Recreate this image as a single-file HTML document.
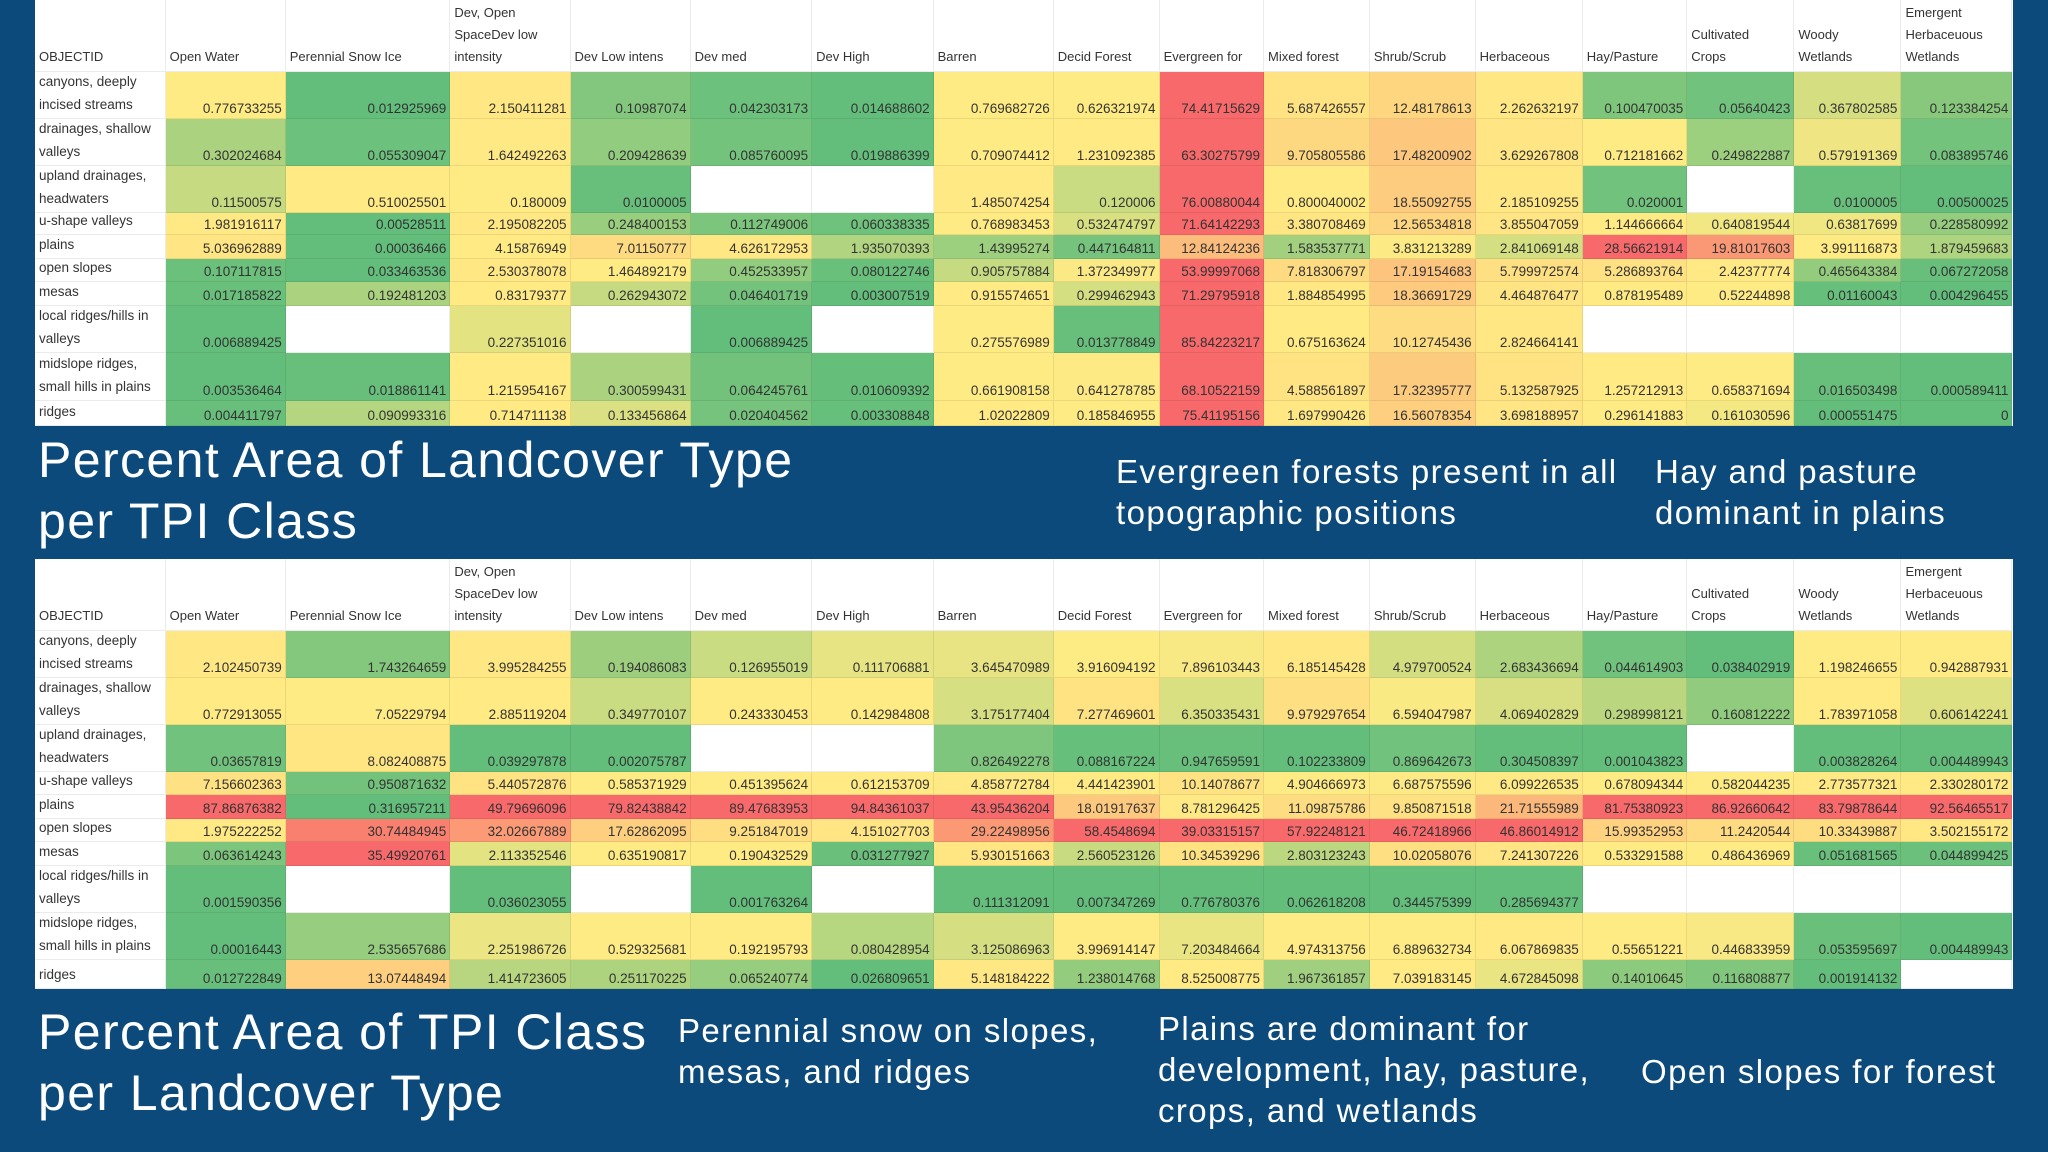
<!DOCTYPE html>
<html><head><meta charset="utf-8">
<style>
html,body{margin:0;padding:0}
body{width:2048px;height:1152px;background:#0c4a7c;position:relative;overflow:hidden;font-family:"Liberation Sans",sans-serif}
.tbl{position:absolute;background:#fff}
.c{position:absolute;box-sizing:border-box;border-right:1px solid rgba(0,0,0,0.08);border-bottom:1px solid rgba(0,0,0,0.08);font-size:13.5px;color:#333;display:flex;align-items:flex-end;overflow:hidden;white-space:nowrap}
.v{justify-content:flex-end;padding:0 3px 2px 0}
.h{padding:0 0 3px 4px;line-height:22px;font-size:13px;white-space:normal}
.l{padding:0 0 2px 4px;line-height:23px;font-size:13.5px;white-space:normal}
.txt{position:absolute;color:#fff;white-space:nowrap}
.title{font-size:50px;line-height:61px;letter-spacing:1.4px}
.note{font-size:33px;line-height:41px;letter-spacing:1.4px}
</style></head>
<body>
<div class="tbl" id="t1" style="left:35px;top:0;width:1978px;height:426px"></div>
<div class="tbl" id="t2" style="left:35px;top:559px;width:1978px;height:430px"></div>

<div class="txt title" style="left:38px;top:430px">Percent Area of Landcover Type<br>per TPI Class</div>
<div class="txt note" style="left:1116px;top:451px">Evergreen forests present in all<br>topographic positions</div>
<div class="txt note" style="left:1655px;top:451px">Hay and pasture<br>dominant in plains</div>

<div class="txt title" style="left:38px;top:1002px">Percent Area of TPI Class<br>per Landcover Type</div>
<div class="txt note" style="left:678px;top:1010px">Perennial snow on slopes,<br>mesas, and ridges</div>
<div class="txt note" style="left:1158px;top:1008px">Plains are dominant for<br>development, hay, pasture,<br>crops, and wetlands</div>
<div class="txt note" style="left:1641px;top:1051px">Open slopes for forest</div>

<script>
const headers=["OBJECTID","Open Water","Perennial Snow Ice","Dev, Open<br>SpaceDev low<br>intensity","Dev Low intens","Dev med","Dev High","Barren","Decid Forest","Evergreen for","Mixed forest","Shrub/Scrub","Herbaceous","Hay/Pasture","Cultivated<br>Crops","Woody<br>Wetlands","Emergent<br>Herbaceuous<br>Wetlands"];
const rowLabels=["canyons, deeply<br>incised streams","drainages, shallow<br>valleys","upland drainages,<br>headwaters","u-shape valleys","plains","open slopes","mesas","local ridges/hills in<br>valleys","midslope ridges,<br>small hills in plains","ridges"];
const landcoverPerTpi=[
[0.776733255,0.012925969,2.150411281,0.10987074,0.042303173,0.014688602,0.769682726,0.626321974,74.41715629,5.687426557,12.48178613,2.262632197,0.100470035,0.05640423,0.367802585,0.123384254],
[0.302024684,0.055309047,1.642492263,0.209428639,0.085760095,0.019886399,0.709074412,1.231092385,63.30275799,9.705805586,17.48200902,3.629267808,0.712181662,0.249822887,0.579191369,0.083895746],
[0.11500575,0.510025501,0.180009,0.0100005,null,null,1.485074254,0.120006,76.00880044,0.800040002,18.55092755,2.185109255,0.020001,null,0.0100005,0.00500025],
[1.981916117,0.00528511,2.195082205,0.248400153,0.112749006,0.060338335,0.768983453,0.532474797,71.64142293,3.380708469,12.56534818,3.855047059,1.144666664,0.640819544,0.63817699,0.228580992],
[5.036962889,0.00036466,4.15876949,7.01150777,4.626172953,1.935070393,1.43995274,0.447164811,12.84124236,1.583537771,3.831213289,2.841069148,28.56621914,19.81017603,3.991116873,1.879459683],
[0.107117815,0.033463536,2.530378078,1.464892179,0.452533957,0.080122746,0.905757884,1.372349977,53.99997068,7.818306797,17.19154683,5.799972574,5.286893764,2.42377774,0.465643384,0.067272058],
[0.017185822,0.192481203,0.83179377,0.262943072,0.046401719,0.003007519,0.915574651,0.299462943,71.29795918,1.884854995,18.36691729,4.464876477,0.878195489,0.52244898,0.01160043,0.004296455],
[0.006889425,null,0.227351016,null,0.006889425,null,0.275576989,0.013778849,85.84223217,0.675163624,10.12745436,2.824664141,null,null,null,null],
[0.003536464,0.018861141,1.215954167,0.300599431,0.064245761,0.010609392,0.661908158,0.641278785,68.10522159,4.588561897,17.32395777,5.132587925,1.257212913,0.658371694,0.016503498,0.000589411],
[0.004411797,0.090993316,0.714711138,0.133456864,0.020404562,0.003308848,1.02022809,0.185846955,75.41195156,1.697990426,16.56078354,3.698188957,0.296141883,0.161030596,0.000551475,0]];
const tpiPerLandcover=[
[2.102450739,1.743264659,3.995284255,0.194086083,0.126955019,0.111706881,3.645470989,3.916094192,7.896103443,6.185145428,4.979700524,2.683436694,0.044614903,0.038402919,1.198246655,0.942887931],
[0.772913055,7.05229794,2.885119204,0.349770107,0.243330453,0.142984808,3.175177404,7.277469601,6.350335431,9.979297654,6.594047987,4.069402829,0.298998121,0.160812222,1.783971058,0.606142241],
[0.03657819,8.082408875,0.039297878,0.002075787,null,null,0.826492278,0.088167224,0.947659591,0.102233809,0.869642673,0.304508397,0.001043823,null,0.003828264,0.004489943],
[7.156602363,0.950871632,5.440572876,0.585371929,0.451395624,0.612153709,4.858772784,4.441423901,10.14078677,4.904666973,6.687575596,6.099226535,0.678094344,0.582044235,2.773577321,2.330280172],
[87.86876382,0.316957211,49.79696096,79.82438842,89.47683953,94.84361037,43.95436204,18.01917637,8.781296425,11.09875786,9.850871518,21.71555989,81.75380923,86.92660642,83.79878644,92.56465517],
[1.975222252,30.74484945,32.02667889,17.62862095,9.251847019,4.151027703,29.22498956,58.4548694,39.03315157,57.92248121,46.72418966,46.86014912,15.99352953,11.2420544,10.33439887,3.502155172],
[0.063614243,35.49920761,2.113352546,0.635190817,0.190432529,0.031277927,5.930151663,2.560523126,10.34539296,2.803123243,10.02058076,7.241307226,0.533291588,0.486436969,0.051681565,0.044899425],
[0.001590356,null,0.036023055,null,0.001763264,null,0.111312091,0.007347269,0.776780376,0.062618208,0.344575399,0.285694377,null,null,null,null],
[0.00016443,2.535657686,2.251986726,0.529325681,0.192195793,0.080428954,3.125086963,3.996914147,7.203484664,4.974313756,6.889632734,6.067869835,0.55651221,0.446833959,0.053595697,0.004489943],
[0.012722849,13.07448494,1.414723605,0.251170225,0.065240774,0.026809651,5.148184222,1.238014768,8.525008775,1.967361857,7.039183145,4.672845098,0.14010645,0.116808877,0.001914132,null]];

const S=2048/1568;
const colEdges=[27,127,219,345,437,529,622,715,807,888,968,1049,1130,1212,1292,1374,1456,1541];
const rowEdges1=[0,55,91,127,163,180,198,216,234,270,307,326];
const rowEdges2=[0,55,91,127,163,181,199,217,235,271,307,329];
const G=[99,190,123],Y=[255,235,132],R=[248,105,107];
function mix(a,b,t){t=Math.max(0,Math.min(1,t));return 'rgb('+a.map((x,i)=>Math.round(x+(b[i]-x)*t)).join(',')+')';}
function pct(arr,p){const s=arr.slice().sort((a,b)=>a-b);const k=(s.length-1)*p;const f=Math.floor(k),c=Math.ceil(k);return s[f]+(s[c]-s[f])*(k-f);}
function scaleOf(vals){const v=vals.filter(x=>x!==null);return {min:Math.min(...v),mid:pct(v,0.5),max:Math.max(...v)};}
function color(v,sc){if(v<=sc.mid)return mix(G,Y,sc.mid===sc.min?1:(v-sc.min)/(sc.mid-sc.min));return mix(Y,R,(v-sc.mid)/(sc.max-sc.mid));}
function fmt(v){if(v===0)return '0';let s=v.toPrecision(10);if(s.indexOf('e')>=0)return String(v);s=s.replace(/0+$/,'').replace(/\.$/,'');return s;}
function build(id,data,rowEdges,byRow){
  const t=document.getElementById(id);
  const ox=colEdges[0];
  const scales=byRow?data.map(r=>scaleOf(r)):headers.slice(1).map((_,j)=>scaleOf(data.map(r=>r[j])));
  const X=i=>(colEdges[i]-ox)*S, Yp=i=>rowEdges[i]*S;
  headers.forEach((h,j)=>{
    const d=document.createElement('div');d.className='c h';
    
    
    d.style.cssText=`left:${X(j)}px;top:0;width:${X(j+1)-X(j)}px;height:${Yp(1)}px`;
    d.innerHTML='<span>'+h+'</span>';t.appendChild(d);
  });
  data.forEach((row,i)=>{
    const l=document.createElement('div');l.className='c l';
    
    
    l.style.cssText=`left:0;top:${Yp(i+1)}px;width:${X(1)}px;height:${Yp(i+2)-Yp(i+1)}px`;
    l.innerHTML='<span>'+rowLabels[i]+'</span>';t.appendChild(l);
    row.forEach((v,j)=>{
      const d=document.createElement('div');d.className='c v';
      
      
      const sc=byRow?scales[i]:scales[j];
      d.style.cssText=`left:${X(j+1)}px;top:${Yp(i+1)}px;width:${X(j+2)-X(j+1)}px;height:${Yp(i+2)-Yp(i+1)}px;background:${v===null?'#fff':color(v,sc)}`;
      d.textContent=v===null?'':fmt(v);t.appendChild(d);
    });
  });
}
build('t1',landcoverPerTpi,rowEdges1,true);
build('t2',tpiPerLandcover,rowEdges2,false);
</script>
</body></html>
